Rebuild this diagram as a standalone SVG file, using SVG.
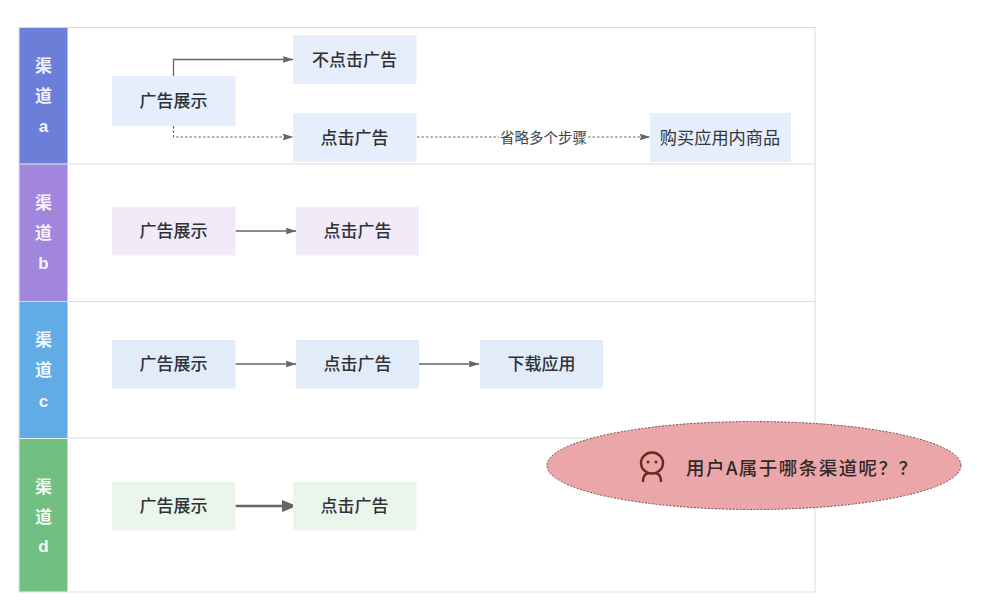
<svg xmlns="http://www.w3.org/2000/svg" width="1000" height="613" viewBox="0 0 1000 613">
<style>
text{font-family:"Liberation Sans","Noto Sans CJK SC",sans-serif;text-anchor:middle}
.l{fill:#fff;fill-opacity:.92;font-size:17px;font-weight:700}
.n{fill:#2f3236;font-size:17px;font-weight:500;font-family:"Noto Sans CJK SC",sans-serif}
.f{stroke:#d9dbde;stroke-width:1;fill:none}
.c{stroke:#666;stroke-width:1.300;fill:none}
.d{stroke-width:1.200;stroke-dasharray:2.500 2}
.a{fill:#e7eefb}.b{fill:#f1eaf9}.e{fill:#e2ecf9}.g{fill:#eaf6eb}
</style>
<defs>
<marker id="ah" markerWidth="11" markerHeight="8" refX="10.500" refY="4" orient="auto" markerUnits="userSpaceOnUse"><path d="M0 0.500L11 4L0 7.500L1.500 4Z" fill="#666"/></marker>
</defs>
<rect width="1000" height="613" fill="#fff"/>
<g id="frame">
<rect class="f" x="19" y="27.500" width="796" height="564.500"/>
<path class="f" d="M19 164H815M19 301.500H815M19 438H815"/>
</g>
<g id="lane-a"><rect x="19.500" y="28" width="48" height="135.500" fill="#6b7fd8"/><text class="l" x="43.500" y="72">渠</text><text class="l" x="43.500" y="102">道</text><text class="l" x="43.500" y="131.500">a</text></g>
<g id="lane-b"><rect x="19.500" y="164.500" width="48" height="136.500" fill="#a285dc"/><text class="l" x="43.500" y="209">渠</text><text class="l" x="43.500" y="239">道</text><text class="l" x="43.500" y="268.500">b</text></g>
<g id="lane-c"><rect x="19.500" y="302" width="48" height="136" fill="#62ace6"/><text class="l" x="43.500" y="346">渠</text><text class="l" x="43.500" y="376">道</text><text class="l" x="43.500" y="406.500">c</text></g>
<g id="lane-d"><rect x="19.500" y="439" width="48" height="152.500" fill="#72bf82"/><text class="l" x="43.500" y="493">渠</text><text class="l" x="43.500" y="523">道</text><text class="l" x="43.500" y="552">d</text></g>
<g id="connectors">
<path class="c" d="M173.500 76V59.500H293" marker-end="url(#ah)"/>
<path class="c d" d="M173.500 126V137H293" marker-end="url(#ah)"/>
<path class="c d" d="M417 137H650" marker-end="url(#ah)"/>
<path class="c" d="M235.500 231H296" marker-end="url(#ah)"/>
<path class="c" d="M235.500 364H296" marker-end="url(#ah)"/>
<path class="c" d="M419 364H479" marker-end="url(#ah)"/>
<path stroke="#666" stroke-width="2.500" fill="none" d="M235.500 506H290"/>
<path fill="#666" d="M282 500L297 506L282 512Z"/>
</g>
<g id="edge-label"><rect x="499" y="128" width="89" height="19" fill="#fff"/><text x="543.500" y="143" font-size="14.500" fill="#444" style="font-family:'Noto Sans CJK SC',sans-serif">省略多个步骤</text></g>
<g id="a1"><rect class="a" x="112" y="76" width="123.500" height="50"/><text class="n" x="173.500" y="107">广告展示</text></g>
<g id="a2"><rect class="a" x="293" y="35" width="123.500" height="49"/><text class="n" x="354.500" y="66">不点击广告</text></g>
<g id="a3"><rect class="a" x="293" y="113" width="123.500" height="49"/><text class="n" x="354.500" y="144">点击广告</text></g>
<g id="a4"><rect class="a" x="650" y="113" width="141" height="49"/><text x="720" y="144" fill="#33363a" font-size="17.200" style="font-family:'Noto Sans CJK SC',sans-serif">购买应用内商品</text></g>
<g id="b1"><rect class="b" x="112" y="207" width="123.500" height="48.500"/><text class="n" x="173.500" y="237">广告展示</text></g>
<g id="b2"><rect class="b" x="296" y="207" width="123" height="48.500"/><text class="n" x="357.500" y="237">点击广告</text></g>
<g id="c1"><rect class="e" x="112" y="340" width="123.500" height="48.500"/><text class="n" x="173.500" y="370">广告展示</text></g>
<g id="c2"><rect class="e" x="296" y="340" width="123" height="48.500"/><text class="n" x="357.500" y="370">点击广告</text></g>
<g id="c3"><rect class="e" x="480" y="340" width="123" height="48.500"/><text class="n" x="541.500" y="370">下载应用</text></g>
<g id="d1"><rect class="g" x="112" y="482" width="123.500" height="48.500"/><text class="n" x="173.500" y="512">广告展示</text></g>
<g id="d2"><rect class="g" x="293" y="482" width="123.500" height="48.500"/><text class="n" x="354.500" y="512">点击广告</text></g>
<g id="callout">
<ellipse cx="754" cy="465.500" rx="207" ry="44" fill="#eaa6a8" stroke="#6e4a4a" stroke-width="1" stroke-dasharray="2 1.500"/>
<g fill="none" stroke="#6b2a1c" stroke-width="2.400"><ellipse cx="652" cy="463" rx="11" ry="10.500"/><path d="M643 482Q643 473.500 649 473M661 482Q661 473.500 655 473"/></g>
<circle cx="648" cy="462" r="1.500" fill="#6b2a1c"/><circle cx="656" cy="462" r="1.500" fill="#6b2a1c"/>
<text x="686" y="475" font-size="18.500" font-weight="500" fill="#33292a" style="font-family:'Noto Sans CJK SC',sans-serif;text-anchor:start" textLength="231" lengthAdjust="spacing">用户A属于哪条渠道呢？？</text>
</g>
</svg>
